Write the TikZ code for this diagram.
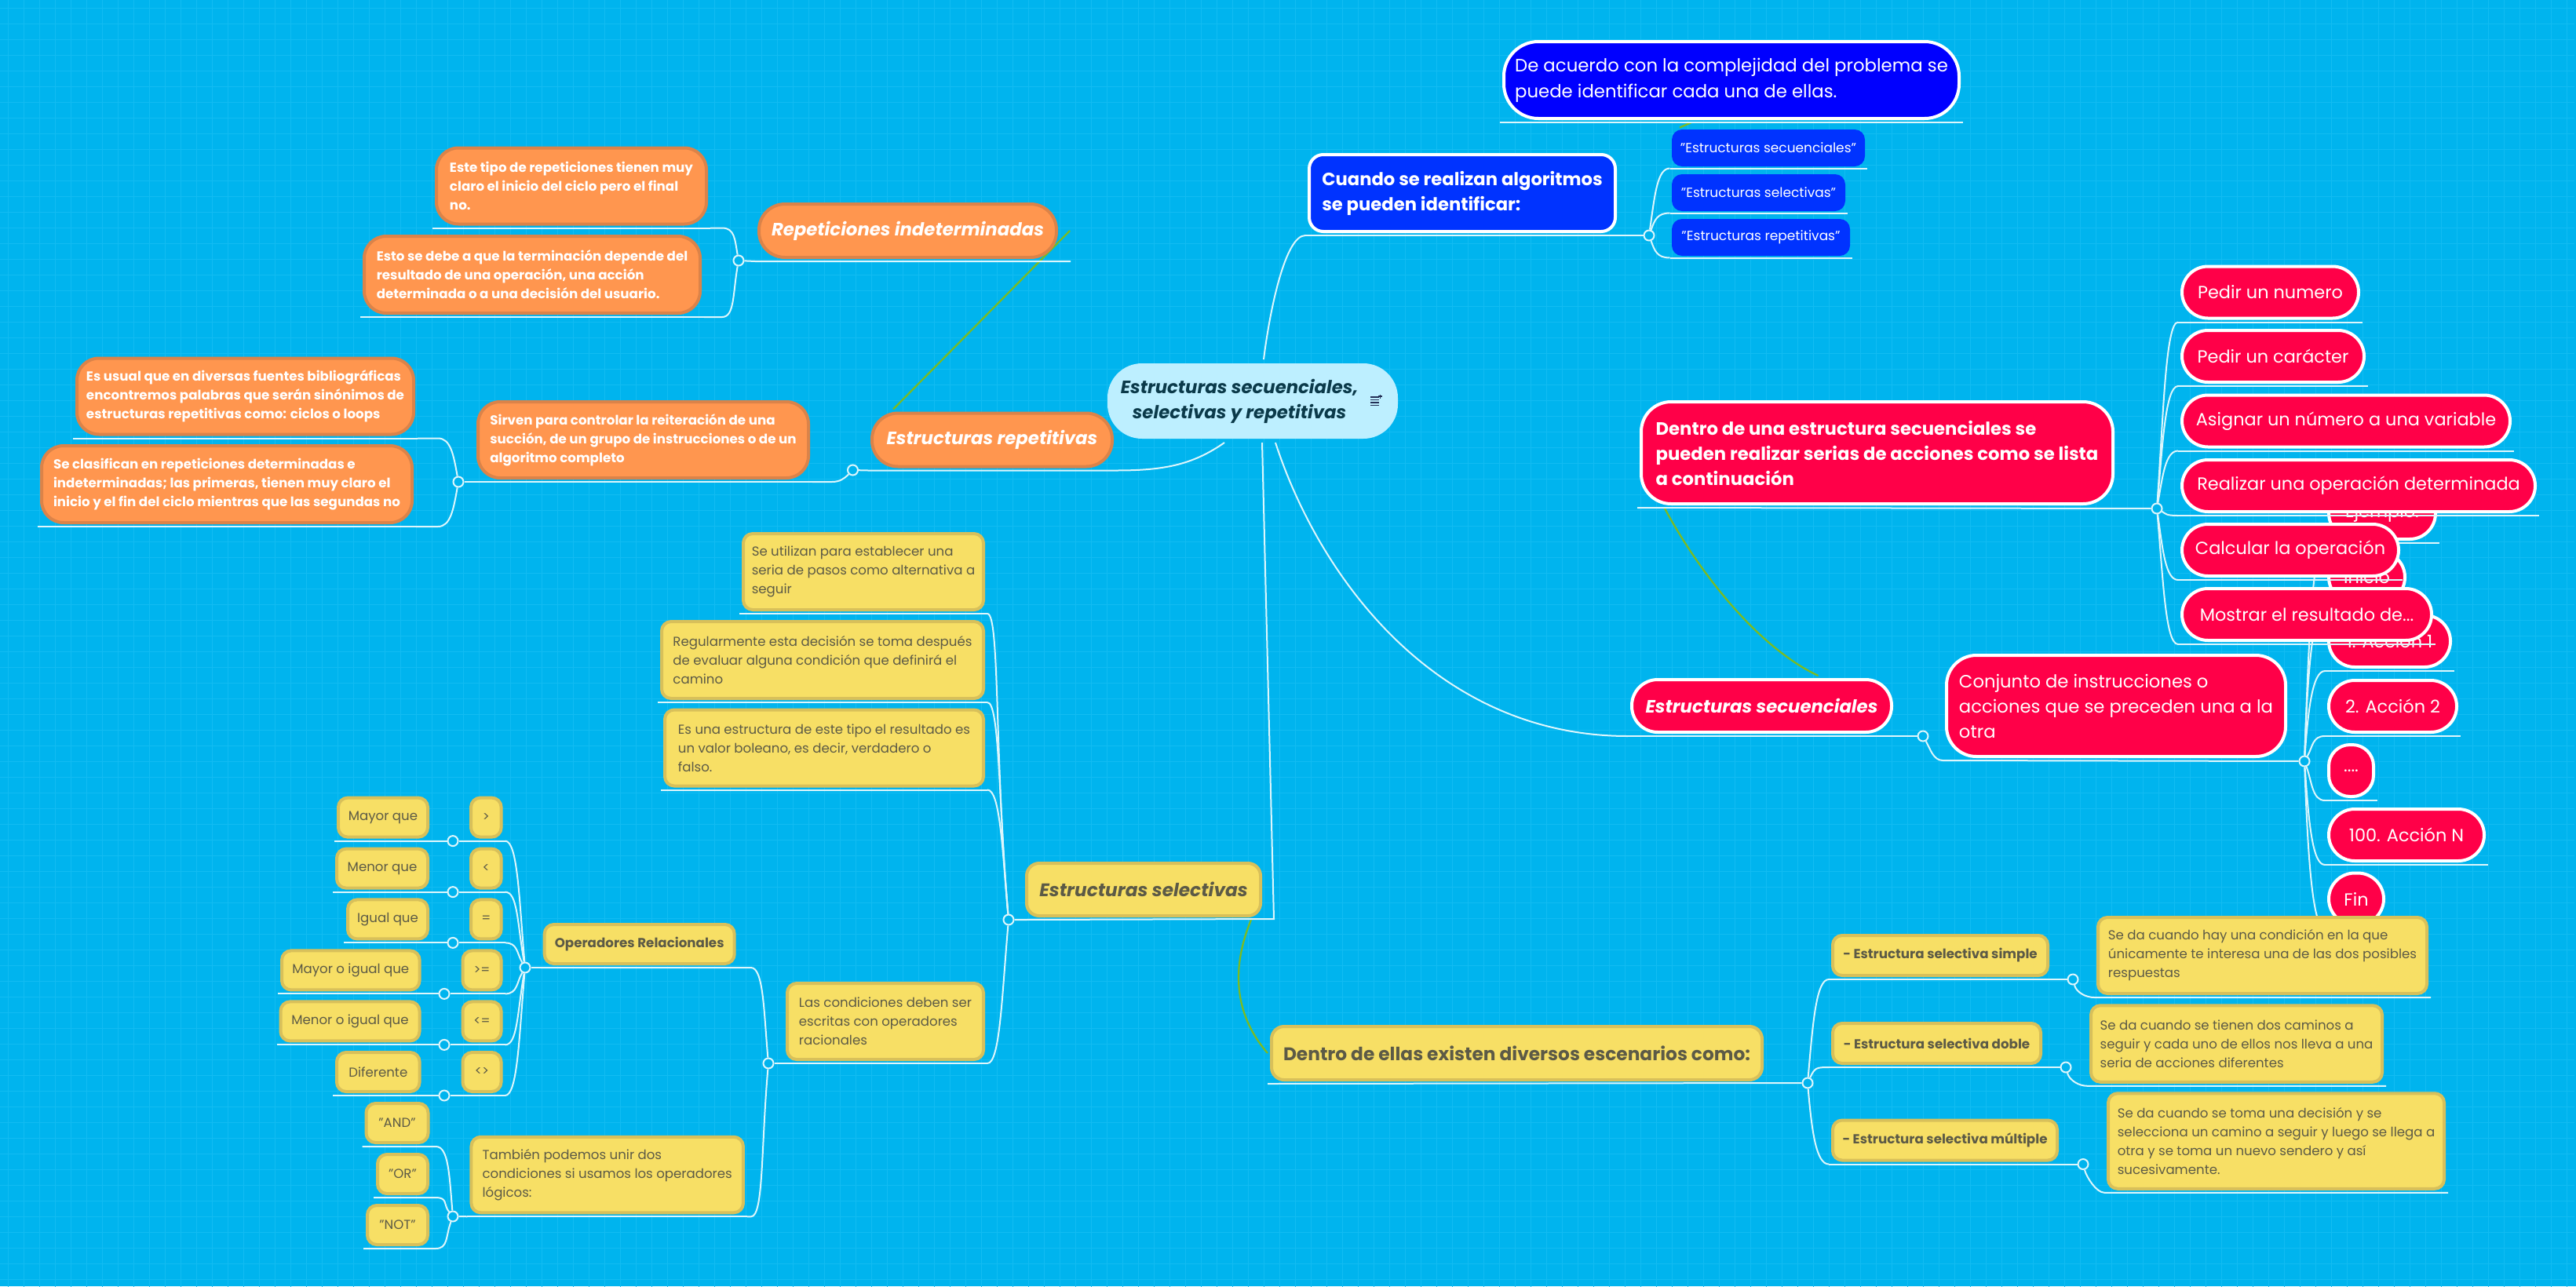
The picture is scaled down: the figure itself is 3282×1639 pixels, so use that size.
\documentclass[tikz,border=0pt]{standalone}
\usepackage{fontspec}
\setmainfont{Poppins}
\usetikzlibrary{positioning}
\definecolor{fondoc}{HTML}{00B4EE}
\definecolor{rejillac}{HTML}{12BCF2}
\definecolor{lineac}{HTML}{DDF6FC}
\definecolor{verdec}{HTML}{7DBB1E}
\definecolor{rojoc}{HTML}{FF0048}
\definecolor{azula}{HTML}{0000FF}
\definecolor{azulb}{HTML}{0033FF}
\definecolor{naranjac}{HTML}{FF964F}
\definecolor{naranjab}{HTML}{DB8349}
\definecolor{amarilloc}{HTML}{F7DF65}
\definecolor{amarillob}{HTML}{D8C05A}
\definecolor{textoc}{HTML}{5C5A46}
\definecolor{centroc}{HTML}{BDEFFF}
\definecolor{centrot}{HTML}{0B3A4A}
\pgfdeclarelayer{fondo}
\pgfsetlayers{fondo,main}
\tikzstyle{caja}=[rectangle,align=left,inner sep=0pt,outer sep=5pt]
\tikzstyle{azulgr}=[caja,fill=azula,draw=white,line width=4pt,rounded corners=44pt,text=white,font=\fontsize{22.8}{33}\selectfont]
\tikzstyle{azulme}=[caja,fill=azulb,draw=white,line width=4pt,rounded corners=18pt,text=white,font=\fontsize{22.7}{32}\selectfont\bfseries]
\tikzstyle{azulch}=[caja,fill=azulb,outer sep=2.5pt,rounded corners=13pt,text=white,font=\fontsize{17}{18}\selectfont]
\tikzstyle{pildora}=[caja,fill=rojoc,draw=white,line width=4pt,rounded corners=33pt,text=white,font=\fontsize{22.4}{32}\selectfont]
\tikzstyle{rojogr}=[caja,fill=rojoc,draw=white,line width=4pt,rounded corners=38pt,text=white,font=\fontsize{22.7}{32}\selectfont]
\tikzstyle{naranja}=[caja,fill=naranjac,draw=naranjab,line width=4pt,rounded corners=28pt,text=white,font=\fontsize{16.7}{24}\selectfont\bfseries]
\tikzstyle{amarillo}=[caja,fill=amarilloc,draw=amarillob,line width=4pt,rounded corners=12pt,text=textoc,font=\fontsize{16.6}{24}\selectfont]
\tikzstyle{amarillog}=[amarillo,rounded corners=16pt,font=\fontsize{23.3}{30}\selectfont\bfseries]
\tikzstyle{amarillos}=[amarillo,font=\fontsize{16.7}{24}\selectfont\bfseries]
\tikzstyle{hub}=[circle,draw=lineac,fill=fondoc,line width=2pt,minimum size=13pt,inner sep=0pt]
\tikzstyle{rama}=[draw=lineac,line width=2pt]
\tikzstyle{relacion}=[draw=verdec,line width=2.2pt]
\tikzstyle{rejilla}=[draw=rejillac,line width=1pt]
\tikzset{curva/.style n args={3}{out=#1,in=#2,out distance=#3 pt,in distance=16pt}}

\begin{document}
\begin{tikzpicture}[x=1pt,y=1pt]
	\useasboundingbox (0,0) rectangle (3282,-1639);
	%The central node
	\node[caja,fill=centroc,rounded corners=44pt,minimum width=370pt,minimum height=96pt] (centro) at (1596,-511) {};
	\node[text=centrot,align=center,font=\fontsize{22.8}{32}\selectfont\bfseries\itshape] (centrotxt) at (1579,-511) {Estructuras secuenciales,\\selectivas y repetitivas};
	\foreach \y in {506,509.5,513,516.5}
		\draw[draw=centrot!80!violet,line width=1.4pt] (1746,-\y) -- (1757,-\y);
	\draw[draw=centrot!80!violet,line width=1.2pt] (1756,-505) -- (1761,-505) (1758.5,-502.5) -- (1758.5,-507.5);
	%The blue branch
	\foreach \pos/\name/\w/\h/\txt in {{(2206,-102)/azultop/580/98/De acuerdo con la complejidad del problema se\\puede identificar cada una de ellas.}}
	{
		\node[azulgr,minimum width=\w pt,minimum height=\h pt] (\name) at \pos {\txt};
		\draw[rama] (\name.south west) -- (\name.south east);
	}
	\node[azulme,minimum width=390pt,minimum height=98pt] (cuando) at (1863,-246) {Cuando se realizan algoritmos\\se pueden identificar:};
	\foreach \pos/\name/\w/\txt in {{(2253,-188.5)/seca/246/"Estructuras secuenciales"},
									{(2240.5,-245.5)/secb/221/"Estructuras selectivas"},
									{(2243.5,-302.5)/secc/227/"Estructuras repetitivas"}}
	{
		\node[azulch,minimum width=\w pt,minimum height=47pt] (\name) at \pos {\txt};
		\draw[rama] (\name.south west) -- (\name.south east);
	}
	\node[hub] (hubazul) at (2101,-300) {};
	\draw[rama] (cuando.south west) -- (hubazul);
	\foreach \b/\o/\d in {seca/82/45, secb/70/14, secc/-70/14}
		\draw[rama] (hubazul) to[curva={\o}{180}{\d}] (\b.south west);
	\draw[rama] ([xshift=14pt]centro.north) to[out=83,in=180,out distance=60pt,in distance=26pt] (cuando.south west);
	%The second red group goes first, it lies under the first one
	\node[rojogr,minimum width=432pt,minimum height=129pt] (conjunto) at (2696,-899.5) {Conjunto de instrucciones o\\acciones que se preceden una a la\\otra};
	\node[hub] (hubconj) at (2936,-970) {};
	\draw[rama] (conjunto.south west) -- (hubconj);
	\foreach \pos/\name/\w/\txt in {{(3035,-654)/ejemplo/136/Ejemplo:},
									{(3015.5,-735.5)/inicio/97/Inicio},
									{(3044.5,-817)/accionu/155/1. Acción 1},
									{(3048.5,-900)/acciond/163/2. Acción 2},
									{(3066,-1064)/accionn/198/100. Acción N},
									{(3002,-1145.5)/fin/70/Fin}}
	{
		\node[pildora,minimum width=\w pt,minimum height=66pt] (\name) at \pos {\txt};
		\draw[rama] (\name.south west) -- (\name.south east);
	}
	\node[pildora,rounded corners=27pt,minimum width=57pt,minimum height=66pt] (puntos) at (2995.5,-982) {....};
	\draw[rama] (puntos.south west) -- (puntos.south east);
	\foreach \b/\o/\d in {ejemplo/88/140, inicio/88/100, accionu/86/55, acciond/60/14, puntos/-70/20, accionn/-86/70, fin/-88/110}
		\draw[rama] (hubconj) to[curva={\o}{180}{\d}] (\b.south west);
	%The first red group
	\node[rojogr,font=\fontsize{22.75}{32}\selectfont\bfseries,minimum width=601pt,minimum height=130pt] (listado) at (2391.5,-577) {Dentro de una estructura secuenciales se\\pueden realizar serias de acciones como se lista\\a continuación};
	\node[hub] (hubrojo) at (2748,-648) {};
	\draw[rama] (listado.south west) -- (hubrojo);
	\foreach \pos/\name/\w/\txt in {{(2892.5,-372.5)/numero/225/Pedir un numero},
									{(2896,-454)/caracter/232/Pedir un carácter},
									{(2989,-536.5)/asignar/418/Asignar un número a una variable},
									{(3005,-619)/realizar/450/Realizar una operación determinada},
									{(2918,-701)/calcular/276/Calcular la operación},
									{(2939,-783)/mostrar/318/{Mostrar el resultado de...}}}
	{
		\node[pildora,minimum width=\w pt,minimum height=66pt] (\name) at \pos {\txt};
		\draw[rama] (\name.south west) -- (\name.south east);
	}
	\foreach \b/\o/\d in {numero/86/110, caracter/85/75, asignar/80/35, realizar/-30/6, calcular/-82/45, mostrar/-85/85}
		\draw[rama] (hubrojo) to[curva={\o}{180}{\d}] (\b.south west);
	\node[pildora,rounded corners=33pt,font=\fontsize{22.8}{32}\selectfont\bfseries\itshape,minimum width=331pt,minimum height=67pt] (secu) at (2244.5,-899.5) {Estructuras secuenciales};
	\node[hub] (hubsecu) at (2450,-938) {};
	\draw[rama] (secu.south west) -- (hubsecu);
	\draw[rama] (hubsecu) to[out=-60,in=180,out distance=10pt,in distance=12pt] (conjunto.south west);
	\draw[rama] ([xshift=29pt]centro.south) to[out=-72,in=180,out distance=180pt,in distance=245pt] (secu.south west);
	%The orange branch
	\foreach \pos/\name/\w/\h/\txt in {{(728,-237)/este/344/97/Este tipo de repeticiones tienen muy\\claro el inicio del ciclo pero el final\\no.},
									{(678,-350)/esto/428/98/Esto se debe a que la terminación depende del\\resultado de una operación, una acción\\determinada o a una decisión del usuario.},
									{(312.5,-505)/esusual/429/97/Es usual que en diversas fuentes bibliográficas\\encontremos palabras que serán sinónimos de\\estructuras repetitivas como: ciclos o loops},
									{(289,-617)/clasifican/472/98/Se clasifican en repeticiones determinadas e\\indeterminadas; las primeras, tienen muy claro el\\inicio y el fin del ciclo mientras que las segundas no},
									{(819.5,-560.5)/sirven/421/97/Sirven para controlar la reiteración de una\\succión, de un grupo de instrucciones o de un\\algoritmo completo}}
	{
		\node[naranja,minimum width=\w pt,minimum height=\h pt] (\name) at \pos {\txt};
		\draw[rama] (\name.south west) -- (\name.south east);
	}
	\foreach \pos/\name/\w/\txt in {{(1156.5,-294)/indeterminadas/379/Repeticiones indeterminadas},
									{(1264,-560.5)/repetitivas/306/Estructuras repetitivas}}
	{
		\node[naranja,rounded corners=33pt,font=\fontsize{22.8}{32}\selectfont\bfseries\itshape,minimum width=\w pt,minimum height=68pt] (\name) at \pos {\txt};
	}
	\node[hub] (hubindet) at (941,-332) {};
	\node[hub] (hubsirven) at (584,-614) {};
	\node[hub] (hubrepet) at (1086.5,-599) {};
	\draw[rama] (hubindet) -- (indeterminadas.south west) -- ([xshift=13pt]indeterminadas.south east);
	\draw[rama] (hubrepet) -- (repetitivas.south west) -- (repetitivas.south east);
	\draw[rama] (sirven.south west) -- (hubsirven);
	\draw[rama] (hubrepet) to[out=-135,in=0,out distance=8pt,in distance=10pt] ([xshift=25pt]sirven.south east) -- (sirven.south east);
	\foreach \b/\e/\o/\d in {este/15/100/20, esto/23/-100/35}
		\draw[rama] (hubindet) to[curva={\o}{0}{\d}] ([xshift=\e pt]\b.south east) -- (\b.south east);
	\foreach \b/\e/\o/\d in {esusual/26/100/28, clasifican/28/-100/28}
		\draw[rama] (hubsirven) to[curva={\o}{0}{\d}] ([xshift=\e pt]\b.south east) -- (\b.south east);
	\draw[rama] ([xshift=-36pt]centro.south) to[out=215,in=0,out distance=50pt,in distance=60pt] (repetitivas.south east);
	%The yellow branch
	\foreach \pos/\name/\w/\h/\txt in {{(1100,-728.5)/utilizan/306/97/Se utilizan para establecer una\\seria de pasos como alternativa a\\seguir},
									{(1048,-841)/regular/410/98/Regularmente esta decisión se toma después\\de evaluar alguna condición que definirá el\\camino},
									{(1050,-953)/esuna/406/97/Es una estructura de este tipo el resultado es\\un valor boleano, es decir, verdadero o\\falso.},
									{(1128,-1301.5)/condiciones/250/97/Las condiciones deben ser\\escritas con operadores\\racionales},
									{(773.7,-1497)/tambien/346.5/96.5/También podemos unir dos\\condiciones si usamos los operadores\\lógicos:}}
	{
		\node[amarillo,minimum width=\w pt,minimum height=\h pt] (\name) at \pos {\txt};
		\draw[rama] (\name.south west) -- (\name.south east);
	}
	\node[amarillog,font=\fontsize{23.2}{30}\selectfont\bfseries\itshape,minimum width=298pt,minimum height=67pt] (selectivas) at (1457,-1133.5) {Estructuras selectivas};
	\node[hub] (hubsel) at (1285,-1172) {};
	\coordinate (esquina) at (1623,-1171);
	\draw[rama] (hubsel) -- (selectivas.south west) -- (esquina) -- ([xshift=12pt]centro.south);
	\foreach \b/\o/\d in {utilizan/95/200, regular/95/140, esuna/95/85, condiciones/-95/90}
		\draw[rama] (hubsel) to[curva={\o}{0}{\d}] (\b.south east);
	\node[hub] (hubcond) at (979,-1355) {};
	\draw[rama] (condiciones.south west) -- (hubcond);
	\node[amarillos,minimum width=242pt,minimum height=50pt] (operadores) at (814.7,-1203) {Operadores Relacionales};
	\draw[rama] (hubcond) to[curva={95}{0}{60}] ([xshift=16pt]operadores.south east) -- (operadores.south west);
	\draw[rama] (hubcond) to[curva={-95}{0}{100}] ([xshift=5pt]tambien.south east) -- (tambien.south east);
	\node[hub] (hubop) at (669,-1233) {};
	\draw[rama] (operadores.south west) -- (hubop);
	%The operators, name on the left and sign on the right
	\foreach \pos/\name/\w/\txt/\posb/\nameb/\wb/\txtb/\hx/\o/\d in {
			{(488,-1041.6)/mayor/114/Mayor que/(619.3,-1041.6)/gt/38.6/>/577/95/80},
			{(487,-1106.6)/menor/116/Menor que/(619.3,-1106.6)/lt/38.6/</577/100/50},
			{(494,-1171.4)/igual/102/Igual que/(619.3,-1171.4)/eq/38.6/=/577/120/14},
			{(446.8,-1236.4)/mayorig/175.6/Mayor o igual que/(614,-1236.4)/ge/49/>=/566/-120/14},
			{(446,-1301.4)/menorig/177/Menor o igual que/(614,-1301.4)/le/49/<=/566/-100/50},
			{(481.8,-1366)/diferente/105.6/Diferente/(614,-1366)/ne/49/<>/566/-95/80}}
	{
		\node[amarillo,minimum width=\w pt,minimum height=50pt] (\name) at \pos {\txt};
		\node[amarillo,minimum width=\wb pt,minimum height=50pt] (\nameb) at \posb {\txtb};
		\node[hub] (hub\name) at (\name.south west -| \hx,0) {};
		\draw[rama] (\name.south west) -- (hub\name) -- (\nameb.south east);
		\draw[rama] (hubop) to[curva={\o}{0}{\d}] (\nameb.south east);
	}
	\node[hub] (hublog) at (577,-1550) {};
	\draw[rama] (tambien.south west) -- (hublog);
	\foreach \pos/\name/\w/\txt/\o/\d in {{(506,-1431)/and/79/"AND"/95/45},
									{(513,-1496)/or/64/"OR"/130/12},
									{(506.5,-1561)/not/77/"NOT"/-110/20}}
	{
		\node[amarillo,minimum width=\w pt,minimum height=50pt] (\name) at \pos {\txt};
		\draw[rama] (hublog) to[curva={\o}{0}{\d}] ([xshift=5pt]\name.south east) -- (\name.south west);
	}
	%The scenarios under the yellow branch
	\node[amarillog,minimum width=625pt,minimum height=68pt] (dentro) at (1932.5,-1342) {Dentro de ellas existen diversos escenarios como:};
	\node[hub] (hubdentro) at (2303,-1380) {};
	\draw[rama] (dentro.south west) -- (hubdentro);
	\foreach \pos/\name/\w/\txt/\posb/\nameb/\wb/\hb/\txtb/\hx/\o/\d in {
			{(2472,-1217.5)/simple/274/- Estructura selectiva simple/(2882.5,-1217.5)/sedauno/419/97/Se da cuando hay una condición en la que\\únicamente te interesa una de las dos posibles\\respuestas/2641/85/70},
			{(2467.5,-1329.5)/doble/265/- Estructura selectiva doble/(2849.5,-1330)/sedados/371/97.5/Se da cuando se tienen dos caminos a\\seguir y cada uno de ellos nos lleva a una\\seria de acciones diferentes/2632/65/14},
			{(2478,-1453)/multiple/286/- Estructura selectiva múltiple/(2900,-1454)/sedatres/428/121.5/Se da cuando se toma una decisión y se\\selecciona un camino a seguir y luego se llega a\\otra y se toma un nuevo sendero y así\\sucesivamente./2654/-85/55}}
	{
		\node[amarillos,minimum width=\w pt,minimum height=51pt] (\name) at \pos {\txt};
		\node[amarillo,minimum width=\wb pt,minimum height=\hb pt] (\nameb) at \posb {\txtb};
		\node[hub] (hub\name) at (\name.south west -| \hx,0) {};
		\draw[rama] (\name.south west) -- (hub\name);
		\draw[rama] (hub\name) to[out=-75,in=180,out distance=10pt,in distance=10pt] (\nameb.south west) -- (\nameb.south east);
		\draw[rama] (hubdentro) to[curva={\o}{180}{\d}] (\name.south west);
	}
	%The grid and the green relations lie under everything
	\begin{pgfonlayer}{fondo}
		\fill[fondoc] (0,0) rectangle (3282,-1639);
		\draw[rejilla,step=20,shift={(10,-10)}] (-10,10) grid (3270,-1630);
		\draw[relacion] ([xshift=-51pt]azultop.south) -- ([xshift=-113pt]seca.north);
		\draw[relacion] ([xshift=12pt]indeterminadas.east) -- ([xshift=-126pt]repetitivas.north);
		\draw[relacion] ([xshift=-271pt]listado.south) .. controls (2165,-730) and (2240,-825) .. ([xshift=72pt]secu.north);
		\draw[relacion] ([xshift=137pt]selectivas.south) .. controls (1570,-1230) and (1570,-1290) .. (dentro.west);
	\end{pgfonlayer}
\end{tikzpicture}
\end{document}
